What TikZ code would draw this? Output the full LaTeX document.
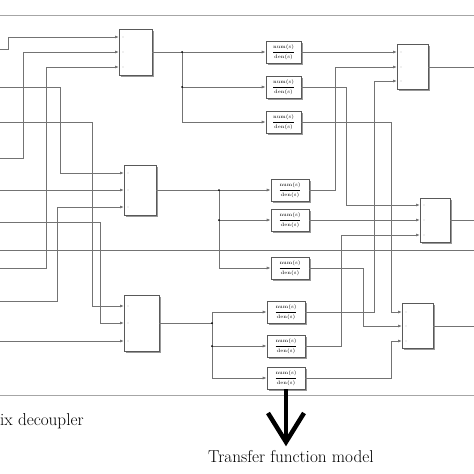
\documentclass[tikz,border=0pt]{standalone}
\usetikzlibrary{arrows.meta,shadows,calc}
\begin{document}
\begin{tikzpicture}[x=1pt,y=-1pt,
  wire/.style={draw=black!55,line width=0.75pt},
  arr/.style={wire,-{Latex[length=4pt,width=3pt]}},
  framel/.style={draw=black!35,line width=0.9pt},
  muxbox/.style={draw=black!65,fill=white,line width=0.6pt,inner sep=0pt,
    drop shadow={shadow xshift=1.5pt,shadow yshift=-1.5pt,fill=black!50,opacity=0.8}},
  tfbox/.style={draw=black!65,fill=white,line width=0.6pt,inner sep=0pt,minimum height=22pt,
    drop shadow={shadow xshift=1.5pt,shadow yshift=-1.5pt,fill=black!50,opacity=0.8},
    font=\fontsize{4.5}{5}\selectfont},
  jdot/.style={circle,fill=black,inner sep=0pt,minimum size=2pt},
  pdot/.style={circle,fill=black!70,inner sep=0pt,minimum size=0.8pt},
  bigarrow/.style={line width=4.5pt,line join=miter,draw=black},
  captext/.style={anchor=base west,font=\fontsize{17.2}{17}\selectfont,inner sep=0pt}
]
\useasboundingbox (0,0) rectangle (474,474);

% frame lines
\coordinate (FT1) at (0,15); \coordinate (FT2) at (474,15);
\coordinate (FB1) at (0,395); \coordinate (FB2) at (474,395);
\draw[framel] (FT1) -- (FT2);
\draw[framel] (FB1) -- (FB2);
\coordinate (H1) at (0,250); \coordinate (H2) at (474,250);
\draw[wire] (H1) -- (H2);

% mux blocks
\node[muxbox,minimum width=33pt,minimum height=46pt] (M1) at (135.5,52) {};
\node[muxbox,minimum width=32pt,minimum height=50pt] (M2) at (140,190) {};
\node[muxbox,minimum width=35pt,minimum height=56pt] (M3) at (141.5,323) {};
\node[muxbox,minimum width=31pt,minimum height=45pt] (R1) at (412.5,67) {};
\node[muxbox,minimum width=30pt,minimum height=44pt] (R2) at (435,220) {};
\node[muxbox,minimum width=31pt,minimum height=45pt] (R3) at (417.5,326) {};

% transfer function blocks
\newcommand{\tftext}{$\displaystyle\frac{\mathrm{num(s)}}{\mathrm{den(s)}}$}
\node[tfbox,minimum width=35pt] (T1) at (283.5,52) {\tftext};
\node[tfbox,minimum width=35pt] (T2) at (283.5,87) {\tftext};
\node[tfbox,minimum width=35pt] (T3) at (283.5,122) {\tftext};
\node[tfbox,minimum width=38pt] (T4) at (290,190) {\tftext};
\node[tfbox,minimum width=38pt] (T5) at (290,220) {\tftext};
\node[tfbox,minimum width=38pt] (T6) at (290,268) {\tftext};
\node[tfbox,minimum width=38pt] (T7) at (286,312) {\tftext};
\node[tfbox,minimum width=38pt] (T8) at (286,346) {\tftext};
\node[tfbox,minimum width=38pt] (T9) at (286,378) {\tftext};

% input ports
\coordinate (M1a) at (119,37); \coordinate (M1b) at (119,52); \coordinate (M1c) at (119,67);
\coordinate (M2a) at (124,173); \coordinate (M2b) at (124,190); \coordinate (M2c) at (124,207);
\coordinate (M3a) at (124,306); \coordinate (M3b) at (124,323); \coordinate (M3c) at (124,341);
\coordinate (R1a) at (397,52); \coordinate (R1b) at (397,67); \coordinate (R1c) at (397,81);
\coordinate (R2a) at (420,205); \coordinate (R2b) at (420,220); \coordinate (R2c) at (420,235);
\coordinate (R3a) at (402,312); \coordinate (R3b) at (402,326); \coordinate (R3c) at (402,341);
\foreach \p in {M1a,M1b,M1c,M2a,M2b,M2c,M3a,M3b,M3c,R1a,R1b,R1c,R2a,R2b,R2c,R3a,R3b,R3c}
  \node[pdot] at ($(\p)+(4,0)$) {};

% left inputs
\coordinate (L1) at (0,49); \coordinate (L2) at (0,158); \coordinate (L3) at (0,268);
\coordinate (L4) at (0,87); \coordinate (L5) at (0,190); \coordinate (L6) at (0,301);
\coordinate (L7) at (0,122); \coordinate (L8) at (0,222); \coordinate (L9) at (0,341);
\draw[arr] (L1) -| (8,37) -- (M1a);
\draw[arr] (L2) -| (23,52) -- (M1b);
\draw[arr] (L3) -| (46,67) -- (M1c);
\draw[arr] (L4) -| (60,173) -- (M2a);
\draw[arr] (L5) -- (M2b);
\draw[arr] (L6) -| (57,207) -- (M2c);
\draw[arr] (L7) -| (92,306) -- (M3a);
\draw[arr] (L8) -| (100,323) -- (M3b);
\draw[arr] (L9) -- (M3c);

% mux outputs to transfer functions
\coordinate (J1) at (182,52); \coordinate (J1b) at (182,87); \coordinate (J1c) at (182,122);
\draw[wire] (M1.east) -- (J1);
\draw[wire] (J1) -- (J1c);
\draw[arr] (J1) -- (T1.west);
\draw[arr] (J1b) -- (T2.west);
\draw[arr] (J1c) -- (T3.west);
\node[jdot] at (J1) {}; \node[jdot] at (J1b) {};

\coordinate (J2) at (219,190); \coordinate (J2b) at (219,220); \coordinate (J2c) at (219,268);
\draw[arr] (M2.east) -- (T4.west);
\draw[wire] (J2) -- (J2c);
\draw[arr] (J2b) -- (T5.west);
\draw[arr] (J2c) -- (T6.west);
\node[jdot] at (J2) {}; \node[jdot] at (J2b) {};

\coordinate (J3) at (212,323); \coordinate (J3a) at (212,312); \coordinate (J3b) at (212,346); \coordinate (J3c) at (212,378);
\draw[wire] (M3.east) -- (J3);
\draw[wire] (J3a) -- (J3c);
\draw[arr] (J3a) -- (T7.west);
\draw[arr] (J3b) -- (T8.west);
\draw[arr] (J3c) -- (T9.west);
\node[jdot] at (J3) {}; \node[jdot] at (J3b) {};

% transfer functions to output muxes
\draw[arr] (T1.east) -- (R1a);
\draw[arr] (T2.east) -| (346,205) -- (R2a);
\draw[arr] (T3.east) -| (391,312) -- (R3a);
\draw[arr] (T4.east) -| (335,67) -- (R1b);
\draw[arr] (T5.east) -- (R2b);
\draw[arr] (T6.east) -| (363,326) -- (R3b);
\draw[arr] (T7.east) -| (374,81) -- (R1c);
\draw[arr] (T8.east) -| (341,235) -- (R2c);
\draw[arr] (T9.east) -| (391,341) -- (R3c);

% outputs
\coordinate (O1) at (474,67); \coordinate (O2) at (474,220); \coordinate (O3) at (474,326);
\draw[wire] (R1.east) -- (O1);
\draw[wire] (R2.east) -- (O2);
\draw[wire] (R3.east) -- (O3);

% big arrow and captions
\coordinate (A1) at (286,442);
\coordinate (A2) at (268,413); \coordinate (A3) at (304,413);
\draw[bigarrow] (T9.south) -- (A1);
\draw[bigarrow] (A2) -- (A1) -- (A3);
\node[captext] (C1) at (0,425) {ix decoupler};
\node[captext] (C2) at (208,462) {Transfer function model};
\end{tikzpicture}
\end{document}
